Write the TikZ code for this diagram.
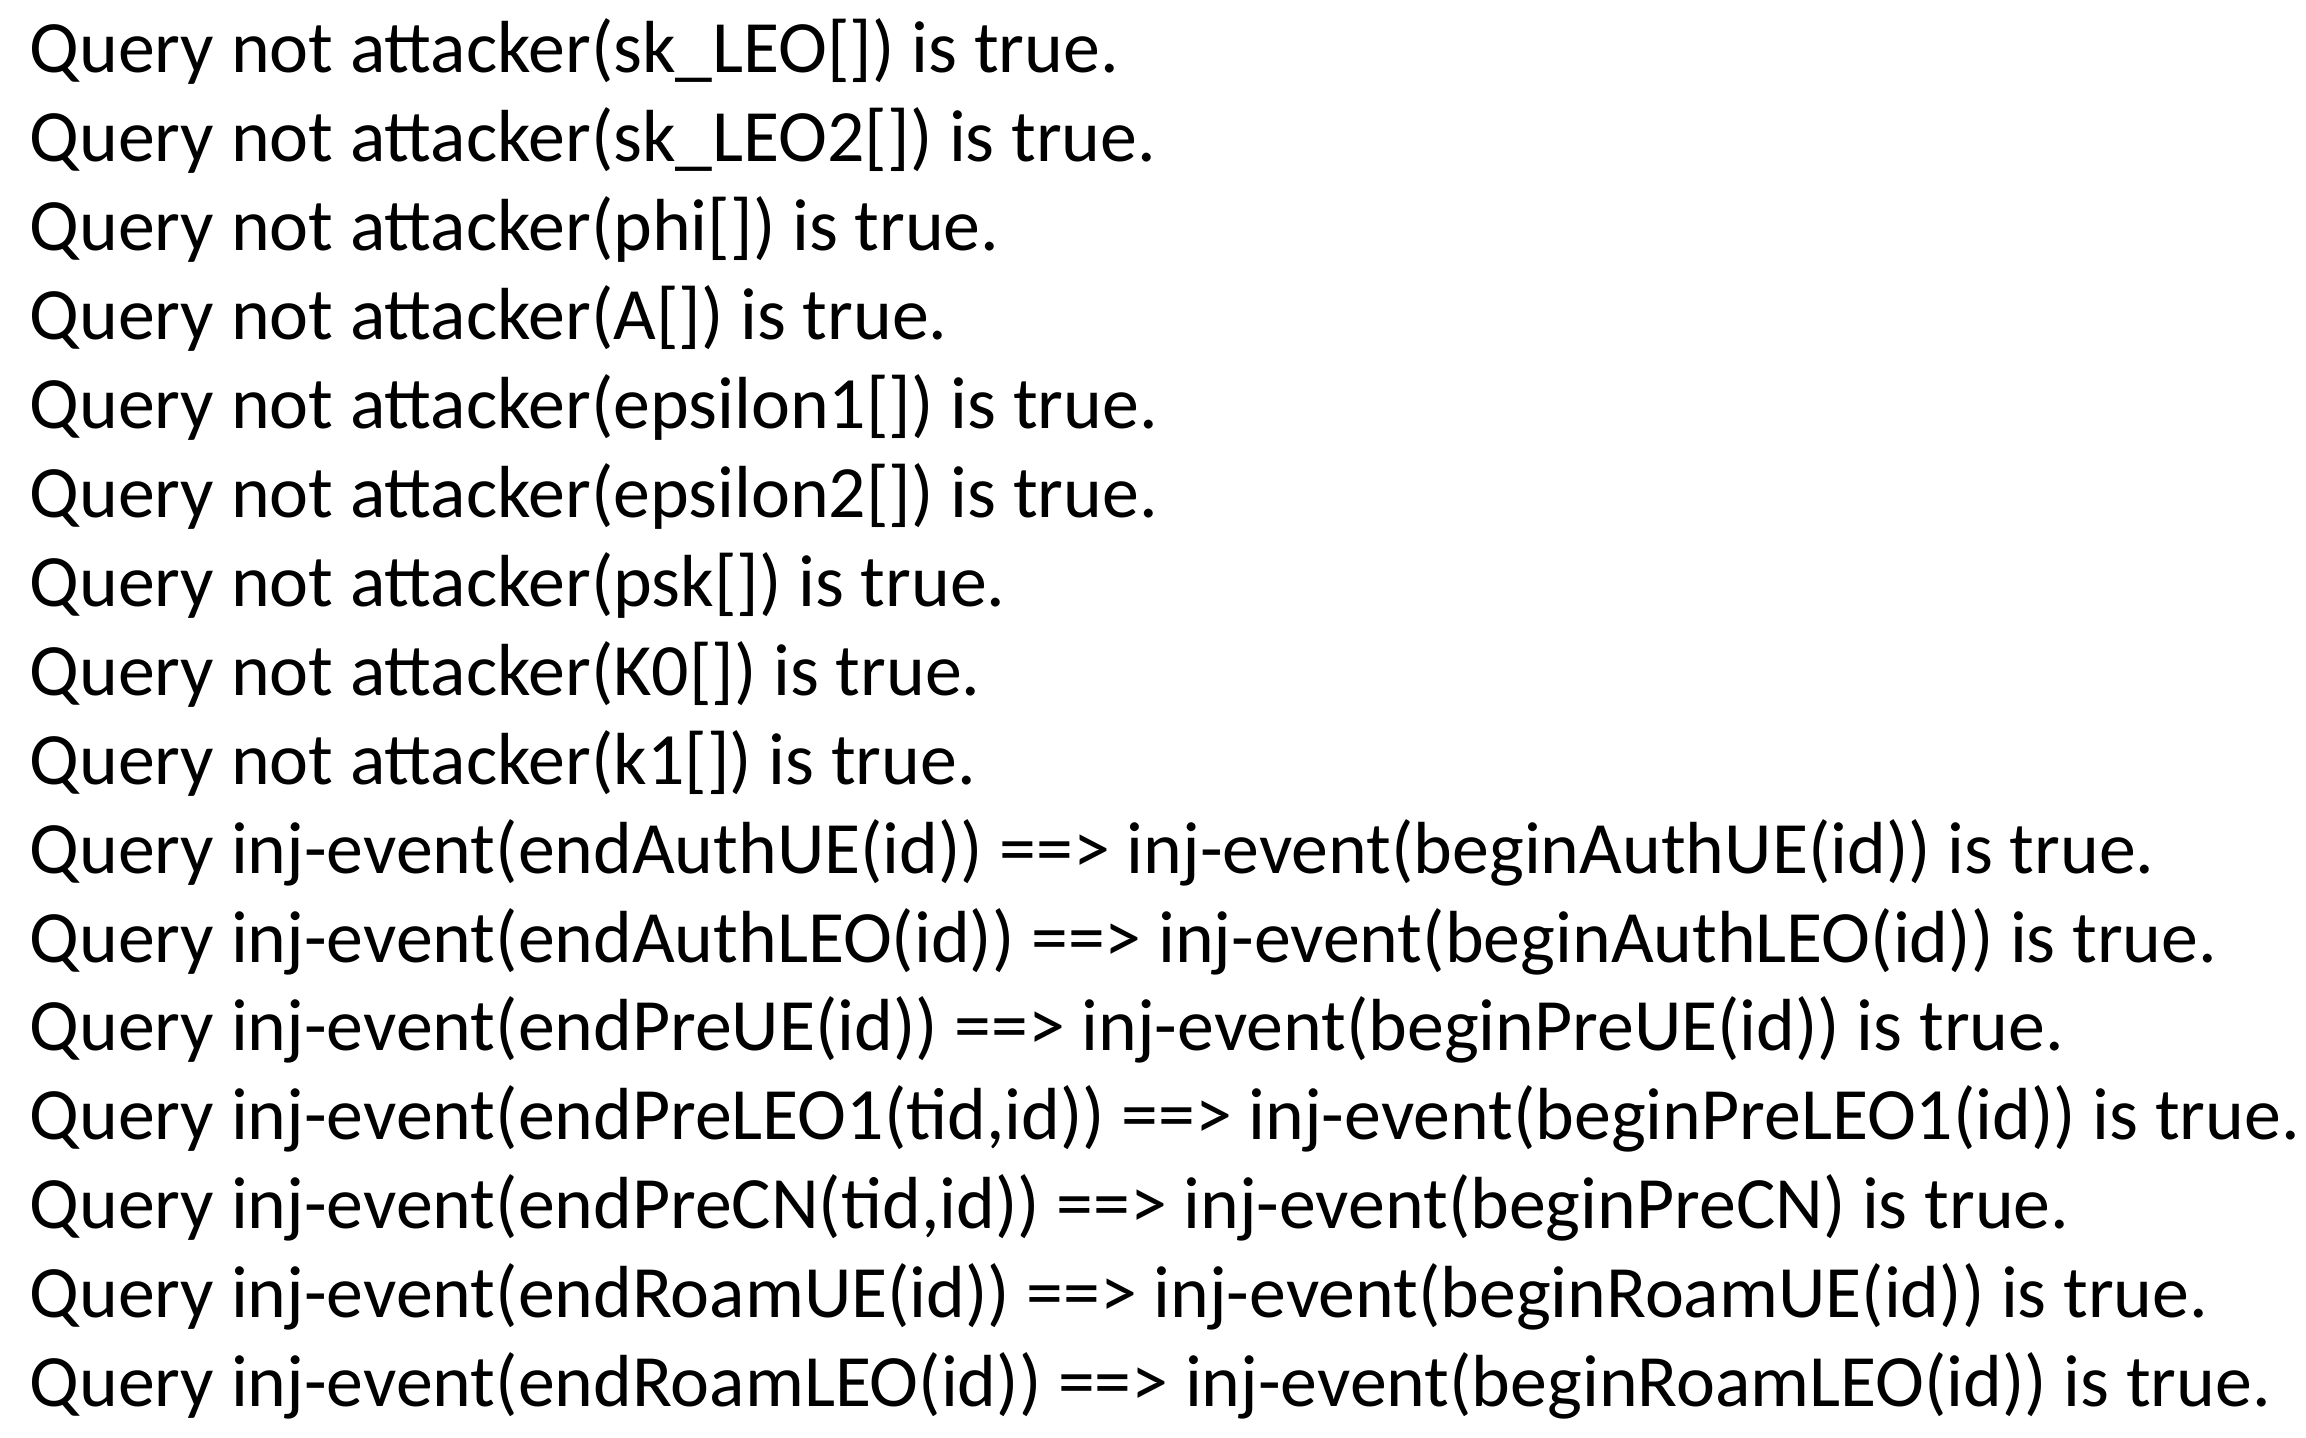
\documentclass[tikz,border=0pt]{standalone}
\usepackage{fontspec}
\setmainfont{Carlito}
\begin{document}
\begin{tikzpicture}[line/.style={anchor=base west,inner sep=0pt,font=\fontsize{21}{25}\selectfont}]
  % frame
  \useasboundingbox (0,0) rectangle (23.06,14.37);
  % result lines
  \foreach \txt [count=\i] in {
    {Query not attacker(sk\_LEO[]) is true.},
    {Query not attacker(sk\_LEO2[]) is true.},
    {Query not attacker(phi[]) is true.},
    {Query not attacker(A[]) is true.},
    {Query not attacker(epsilon1[]) is true.},
    {Query not attacker(epsilon2[]) is true.},
    {Query not attacker(psk[]) is true.},
    {Query not attacker(K0[]) is true.},
    {Query not attacker(k1[]) is true.},
    {Query inj-event(endAuthUE(id)) ==> inj-event(beginAuthUE(id)) is true.},
    {Query inj-event(endAuthLEO(id)) ==> inj-event(beginAuthLEO(id)) is true.},
    {Query inj-event(endPreUE(id)) ==> inj-event(beginPreUE(id)) is true.},
    {Query inj-event(endPreLEO1(tid,id)) ==> inj-event(beginPreLEO1(id)) is true.},
    {Query inj-event(endPreCN(tid,id)) ==> inj-event(beginPreCN) is true.},
    {Query inj-event(endRoamUE(id)) ==> inj-event(beginRoamUE(id)) is true.},
    {Query inj-event(endRoamLEO(id)) ==> inj-event(beginRoamLEO(id)) is true.}}
    \node[line] (l\i) at (0.29,{13.64-(\i-1)*0.889}) {\txt};
\end{tikzpicture}
\end{document}
